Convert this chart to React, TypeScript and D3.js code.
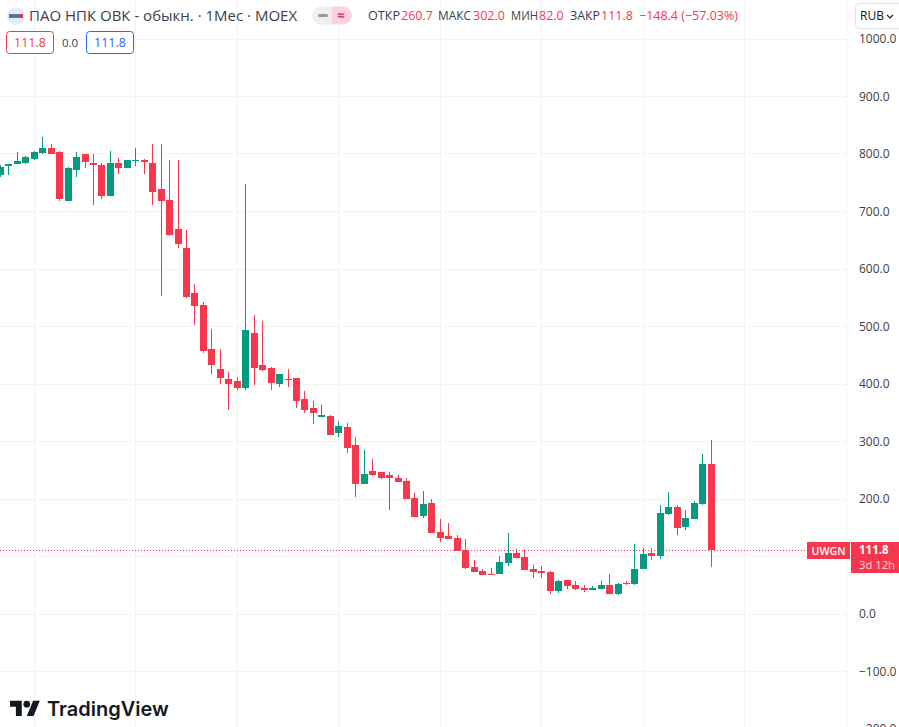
import * as d3 from 'd3';

const opens = [763.4, 779, 782.6, 784.3, 791.2, 801.7, 810.4, 803.4, 718.2, 772.1, 800, 784.3, 780.8, 726.9, 784.3, 775.6, 787.8, 789.5, 784.3, 739.1, 719.9, 669.5, 636.5, 558.2, 537.4, 460.8, 426, 408.7, 405.2, 393, 488.7, 433, 427.8, 400, 408.7, 410.4, 373.9, 358.2, 342.6, 344.3, 314.8, 325.2, 293.9, 226.1, 248.7, 246.9, 241.7, 236.5, 231.3, 201.7, 170.4, 193, 142.6, 135.6, 132.2, 111.3, 81.7, 74.8, 69.6, 69.6, 88.7, 106.1, 99.1, 78.3, 74.8, 73, 40, 59.1, 50.4, 45.2, 41.7, 43.5, 50.4, 34.8, 53.9, 52.2, 78.3, 106.1, 100.9, 173.9, 186.1, 151.3, 165.2, 191.3, 260.7];
const highs = [780.8, 783.4, 803.4, 796.5, 805.2, 829.5, 817.3, 805.2, 777.3, 803.4, 800, 800, 784.3, 805.2, 793, 789.5, 810.4, 791.2, 817.3, 817.3, 789.5, 789.5, 667.8, 573.9, 542.6, 495.6, 460.8, 420.8, 412.1, 747.8, 520, 509.5, 429.5, 417.4, 426, 410.4, 387.8, 370.4, 363.5, 346.1, 335.6, 332.1, 307.8, 285.2, 269.5, 246.9, 246.9, 241.7, 236.5, 210.4, 213.9, 200, 165.2, 158.2, 137.4, 130.4, 93.9, 78.3, 80, 100.9, 140.9, 113, 111.3, 85.2, 83.5, 74.8, 59.1, 59.1, 57.4, 50.4, 48.7, 57.4, 69.6, 53.9, 57.4, 121.7, 114.8, 114.8, 189.6, 212.2, 189.6, 180.9, 196.5, 278.2, 302];
const lows = [760, 763.4, 782.6, 782.6, 789.5, 800, 800, 718.2, 718.2, 760, 775.6, 711.3, 721.7, 726.9, 765.2, 775.6, 779, 765.2, 711.3, 553, 657.3, 636.5, 549.5, 502.6, 453.9, 417.4, 400, 354.8, 389.5, 389.5, 398.2, 422.6, 389.5, 394.8, 394.8, 358.2, 349.5, 330.4, 342.6, 311.3, 307.8, 280, 203.5, 226.1, 240, 234.8, 180.9, 229.5, 200, 168.7, 166.9, 140.9, 125.2, 130.4, 109.6, 78.3, 73, 67.8, 67.8, 69.6, 83.5, 97.4, 76.5, 62.6, 62.6, 34.8, 36.5, 43.5, 41.7, 38.3, 41.7, 43.5, 34.8, 33, 50.4, 50.4, 78.3, 93.9, 95.6, 172.2, 137.4, 146.1, 165.2, 189.6, 82];
const closes = [777.3, 782.6, 787.8, 794.7, 803.4, 810.4, 800, 721.7, 775.6, 794.7, 786, 780.8, 726.9, 784.3, 775.6, 789.5, 789.5, 786, 733.9, 718.2, 659.1, 643.4, 551.3, 535.6, 457.4, 433, 410.4, 400, 393, 493.9, 427.8, 424.3, 401.7, 417.4, 406.9, 370.4, 354.8, 349.5, 346.1, 311.3, 326.9, 288.7, 226.1, 243.5, 241.7, 236.5, 236.5, 229.5, 200, 168.7, 191.3, 140.9, 132.2, 130.4, 109.6, 80, 73, 67.8, 67.8, 90.4, 106.1, 97.4, 76.5, 73, 71.3, 40, 57.4, 48.7, 43.5, 41.7, 45.2, 50.4, 34.8, 52.2, 52.2, 78.3, 104.3, 100.9, 175.6, 186.1, 149.6, 166.9, 193, 260.9, 111.8];

const priceTicks = [1000, 900, 800, 700, 600, 500, 400, 300, 200, 100, 0, -100, -200];
// the last price tag sits on top of this one, so it gets no label
const hiddenLabels = [100];
const yearStarts = [4, 16, 28, 40, 52, 64, 76, 88];
const lastPrice = 111.8;

const RED = '#f7374d';
const GREEN = '#089981';
const GRID = '#f3f3f4';
const FONT = '"Open Sans", sans-serif';
const TEXT = '#3d4048';

const x = d3.scaleLinear().domain([0, 84]).range([0.4, 711.1]);
const y = d3.scaleLinear().domain([0, 1000]).range([614, 39]);
const fmt = d3.format('.1f');
const BODY = 7;

function Header() {
    const label = { fontSize: 12, fill: TEXT };
    const value = { fontSize: 12.5, fill: RED };
    return (
        <g fontFamily={FONT}>
            <circle cx={16} cy={16} r={9} fill="#e9edf3" />
            <rect x={9} y={14} width={13} height={4} fill="#56789c" />
            <rect x={20} y={14} width={3} height={4} fill="#e8323c" />
            <text x={29} y={21} fontSize={15} fill={TEXT}>ПАО НПК ОВК - обыкн. · 1Мес · MOEX</text>

            <path d="M332 6.5h-11a9 9 0 0 0 0 18h11z" fill="#eeeff2" />
            <path d="M332 6.5h11a9 9 0 0 1 0 18h-11z" fill="#f9d3dd" />
            <rect x={318} y={14} width={10} height={3} rx={1.5} fill="#9598a1" />
            <text x={341} y={20} textAnchor="middle" fontSize={13} fontWeight={700} fill="#e91e63">≈</text>

            <text x={368} y={20} style={label} textLength={32} lengthAdjust="spacingAndGlyphs">ОТКР</text>
            <text x={401} y={20} style={value}>260.7</text>
            <text x={438} y={20} style={label} textLength={33} lengthAdjust="spacingAndGlyphs">МАКС</text>
            <text x={473} y={20} style={value}>302.0</text>
            <text x={511} y={20} style={label} textLength={27} lengthAdjust="spacingAndGlyphs">МИН</text>
            <text x={539} y={20} style={value}>82.0</text>
            <text x={570} y={20} style={label} textLength={30} lengthAdjust="spacingAndGlyphs">ЗАКР</text>
            <text x={601} y={20} style={value}>111.8</text>
            <text x={639} y={20} style={value}>−148.4 (−57.03%)</text>

            <rect x={6.5} y={31.5} width={47} height={22} rx={3} fill="#fff" stroke={RED} />
            <text x={30} y={47} textAnchor="middle" fontSize={12.5} fill={RED}>111.8</text>
            <text x={70} y={47} textAnchor="middle" fontSize={11.5} fill={TEXT}>0.0</text>
            <rect x={86.5} y={31.5} width={47} height={22} rx={3} fill="#fff" stroke="#2962ff" />
            <text x={110} y={47} textAnchor="middle" fontSize={12.5} fill="#2962ff">111.8</text>

            <rect x={855.5} y={3.5} width={50} height={25} rx={4} fill="#fff" stroke="#e0e3eb" />
            <text x={860} y={20} fontSize={12} fill="#131722">RUB</text>
            <path d="M887 15l3 3 3-3" fill="none" stroke="#131722" strokeWidth={1.2} />
        </g>
    );
}

export default function App() {
    return (
        <svg
            width={899}
            height={727}
            viewBox="0 0 899 727"
            style={{ position: 'fixed', left: 0, top: 0, background: '#fff' }}
        >
            {priceTicks.map((t) => (
                <line key={t} x1={0} x2={851} y1={Math.floor(y(t)) + 0.5} y2={Math.floor(y(t)) + 0.5} stroke={GRID} />
            ))}
            {yearStarts.map((i) => (
                <line key={i} x1={Math.floor(x(i)) + 0.5} x2={Math.floor(x(i)) + 0.5} y1={0} y2={727} stroke={GRID} />
            ))}
            <line x1={846.5} x2={846.5} y1={0} y2={727} stroke={GRID} />

            <line
                x1={0}
                x2={807}
                y1={Math.round(y(lastPrice)) + 0.5}
                y2={Math.round(y(lastPrice)) + 0.5}
                stroke={RED}
                strokeDasharray="1 2"
            />

            {closes.map((c, i) => {
                const cx = Math.floor(x(i));
                const top = Math.round(y(Math.max(opens[i], c)));
                const bottom = Math.round(y(Math.min(opens[i], c)));
                const hi = Math.round(y(highs[i]));
                const lo = Math.round(y(lows[i]));
                const color = c >= opens[i] ? GREEN : RED;
                return (
                    <g key={i} fill={color}>
                        <rect x={cx} y={hi} width={1} height={lo - hi} />
                        <rect x={cx - (BODY - 1) / 2} y={top} width={BODY} height={Math.max(bottom - top, 1)} />
                    </g>
                );
            })}

            <Header />

            <g fontFamily={FONT} fontSize={12} fill={TEXT}>
                {priceTicks
                    .filter((t) => !hiddenLabels.includes(t))
                    .map((t) => (
                        <text key={t} x={859} y={y(t) + 4}>{fmt(t)}</text>
                    ))}
            </g>

            <g fontFamily={FONT}>
                <rect x={807} y={542} width={43} height={17} fill={RED} />
                <text x={828.5} y={555} textAnchor="middle" fontSize={11.5} fontWeight={600} fill="#fff" textLength={34} lengthAdjust="spacingAndGlyphs">UWGN</text>
                <rect x={851} y={542} width={48} height={31} fill={RED} />
                <text x={859} y={554} fontSize={11.5} fontWeight={700} fill="#fff">{fmt(lastPrice)}</text>
                <text x={859} y={569} fontSize={11} fill="#fcd7dc" textLength={36} lengthAdjust="spacingAndGlyphs">3d 12h</text>
            </g>

            <g transform="translate(10 697.5) scale(0.84)" fill="#131722">
                <path d="M14 22H7V11H0V4h14v18zM28 22h-8l7.5-18h8L28 22z" />
                <circle cx={20} cy={8} r={4} />
            </g>
            <text x={47} y={716} fontFamily="Inter, sans-serif" fontSize={20} fontWeight={600} fill="#131722">TradingView</text>
        </svg>
    );
}
